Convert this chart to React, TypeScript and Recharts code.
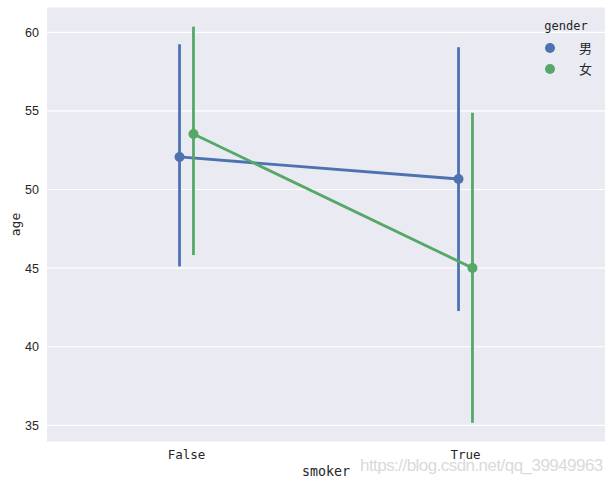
import React from 'react';
import { ComposedChart, Line, XAxis, YAxis, CartesianGrid, ErrorBar } from 'recharts';

const categories = ['False', 'True'];
const hueNames = ['男', '女'];
const hueColors = ['#4c72b0', '#55a868'];
const maleMean = [52.07, 50.67];
const maleLow = [45.11, 42.27];
const maleHigh = [59.24, 59.05];
const femaleMean = [53.53, 45.01];
const femaleLow = [45.83, 35.17];
const femaleHigh = [60.36, 54.89];
const yTicks = [35, 40, 45, 50, 55, 60];
const xTicks = [0, 1];
const dodgeOffsets = [-0.025, 0.025];

const build = (mean: number[], low: number[], high: number[], off: number) =>
  categories.map((c, i) => ({
    x: i + off,
    cat: c,
    y: mean[i],
    err: [mean[i] - low[i], high[i] - mean[i]],
  }));

const maleData = build(maleMean, maleLow, maleHigh, dodgeOffsets[0]);
const femaleData = build(femaleMean, femaleLow, femaleHigh, dodgeOffsets[1]);

const monoFont = '"DejaVu Sans Mono", "Liberation Mono", monospace';
const cjkFont = '"Noto Sans CJK SC", sans-serif';
const textColor = '#262626';

const LegendBox = () => (
  <div style={{ position: 'absolute', left: 520, top: 19, width: 90, fontFamily: monoFont, color: textColor }}>
    <div style={{ fontSize: 12, textAlign: 'center', marginLeft: 2, lineHeight: '14px' }}>gender</div>
    {hueNames.map((n, i) => (
      <div key={n} style={{ display: 'flex', alignItems: 'center', height: 21, marginTop: i === 0 ? 4 : 0 }}>
        <span
          style={{
            display: 'inline-block',
            width: 10,
            height: 10,
            borderRadius: 5,
            background: hueColors[i],
            marginLeft: 25,
          }}
        />
        <span style={{ fontFamily: cjkFont, fontSize: 13, marginLeft: 24 }}>{n}</span>
      </div>
    ))}
  </div>
);

export default function App() {
  return (
    <div style={{ position: 'absolute', left: 0, top: 0, width: 612, height: 486, background: '#fff' }}>
      <ComposedChart
        width={612}
        height={486}
        margin={{ top: 7, right: 7, bottom: 0, left: 0 }}
        style={{ fontFamily: '"Liberation Sans", Arial, sans-serif' }}
      >
        <CartesianGrid fill="#eaeaf2" stroke="#ffffff" strokeWidth={1.2} vertical={false} />
        <XAxis
          type="number"
          dataKey="x"
          domain={[-0.5, 1.5]}
          ticks={xTicks}
          tickFormatter={(v: number) => categories[v]}
          allowDataOverflow
          axisLine={false}
          tickLine={false}
          height={44}
          tick={{ fontFamily: monoFont, fontSize: 12.5, fill: textColor }}
          label={{
            content: (p: any) => {
              const vb = p.viewBox;
              return (
                <text
                  x={vb.x + vb.width / 2}
                  y={vb.y + 34}
                  textAnchor="middle"
                  fontFamily={monoFont}
                  fontSize={13.3}
                  fill={textColor}
                >
                  smoker
                </text>
              );
            },
          }}
        />
        <YAxis
          type="number"
          domain={[33.94, 61.61]}
          ticks={yTicks}
          allowDataOverflow
          axisLine={false}
          tickLine={false}
          width={47}
          tick={{ fontSize: 12.5, fill: textColor, fontFamily: '"Liberation Sans", Arial, sans-serif' }}
          label={{
            content: (p: any) => {
              const vb = p.viewBox;
              const cx = 15;
              const cy = vb.y + vb.height / 2;
              return (
                <text
                  x={cx}
                  y={cy}
                  transform={`rotate(-90, ${cx}, ${cy})`}
                  textAnchor="middle"
                  dominantBaseline="central"
                  fontFamily={monoFont}
                  fontSize={13}
                  fill={textColor}
                >
                  age
                </text>
              );
            },
          }}
        />
        <Line
          data={maleData}
          dataKey="y"
          name={hueNames[0]}
          stroke={hueColors[0]}
          strokeWidth={2.8}
          dot={{ r: 5, fill: hueColors[0], stroke: hueColors[0], strokeWidth: 0 }}
          activeDot={false}
          isAnimationActive={false}
        >
          <ErrorBar dataKey="err" direction="y" width={0} stroke={hueColors[0]} strokeWidth={2.8} isAnimationActive={false} />
        </Line>
        <Line
          data={femaleData}
          dataKey="y"
          name={hueNames[1]}
          stroke={hueColors[1]}
          strokeWidth={2.8}
          dot={{ r: 5, fill: hueColors[1], stroke: hueColors[1], strokeWidth: 0 }}
          activeDot={false}
          isAnimationActive={false}
        >
          <ErrorBar dataKey="err" direction="y" width={0} stroke={hueColors[1]} strokeWidth={2.8} isAnimationActive={false} />
        </Line>
      </ComposedChart>
      <LegendBox />
      <div
        style={{
          position: 'absolute',
          left: 360,
          top: 461,
          fontFamily: '"Liberation Sans", Arial, sans-serif',
          fontSize: 17,
          letterSpacing: '-0.55px',
          color: '#dadada',
          whiteSpace: 'nowrap',
          lineHeight: '10px',
        }}
      >
        https://blog.csdn.net/qq_39949963
      </div>
    </div>
  );
}
